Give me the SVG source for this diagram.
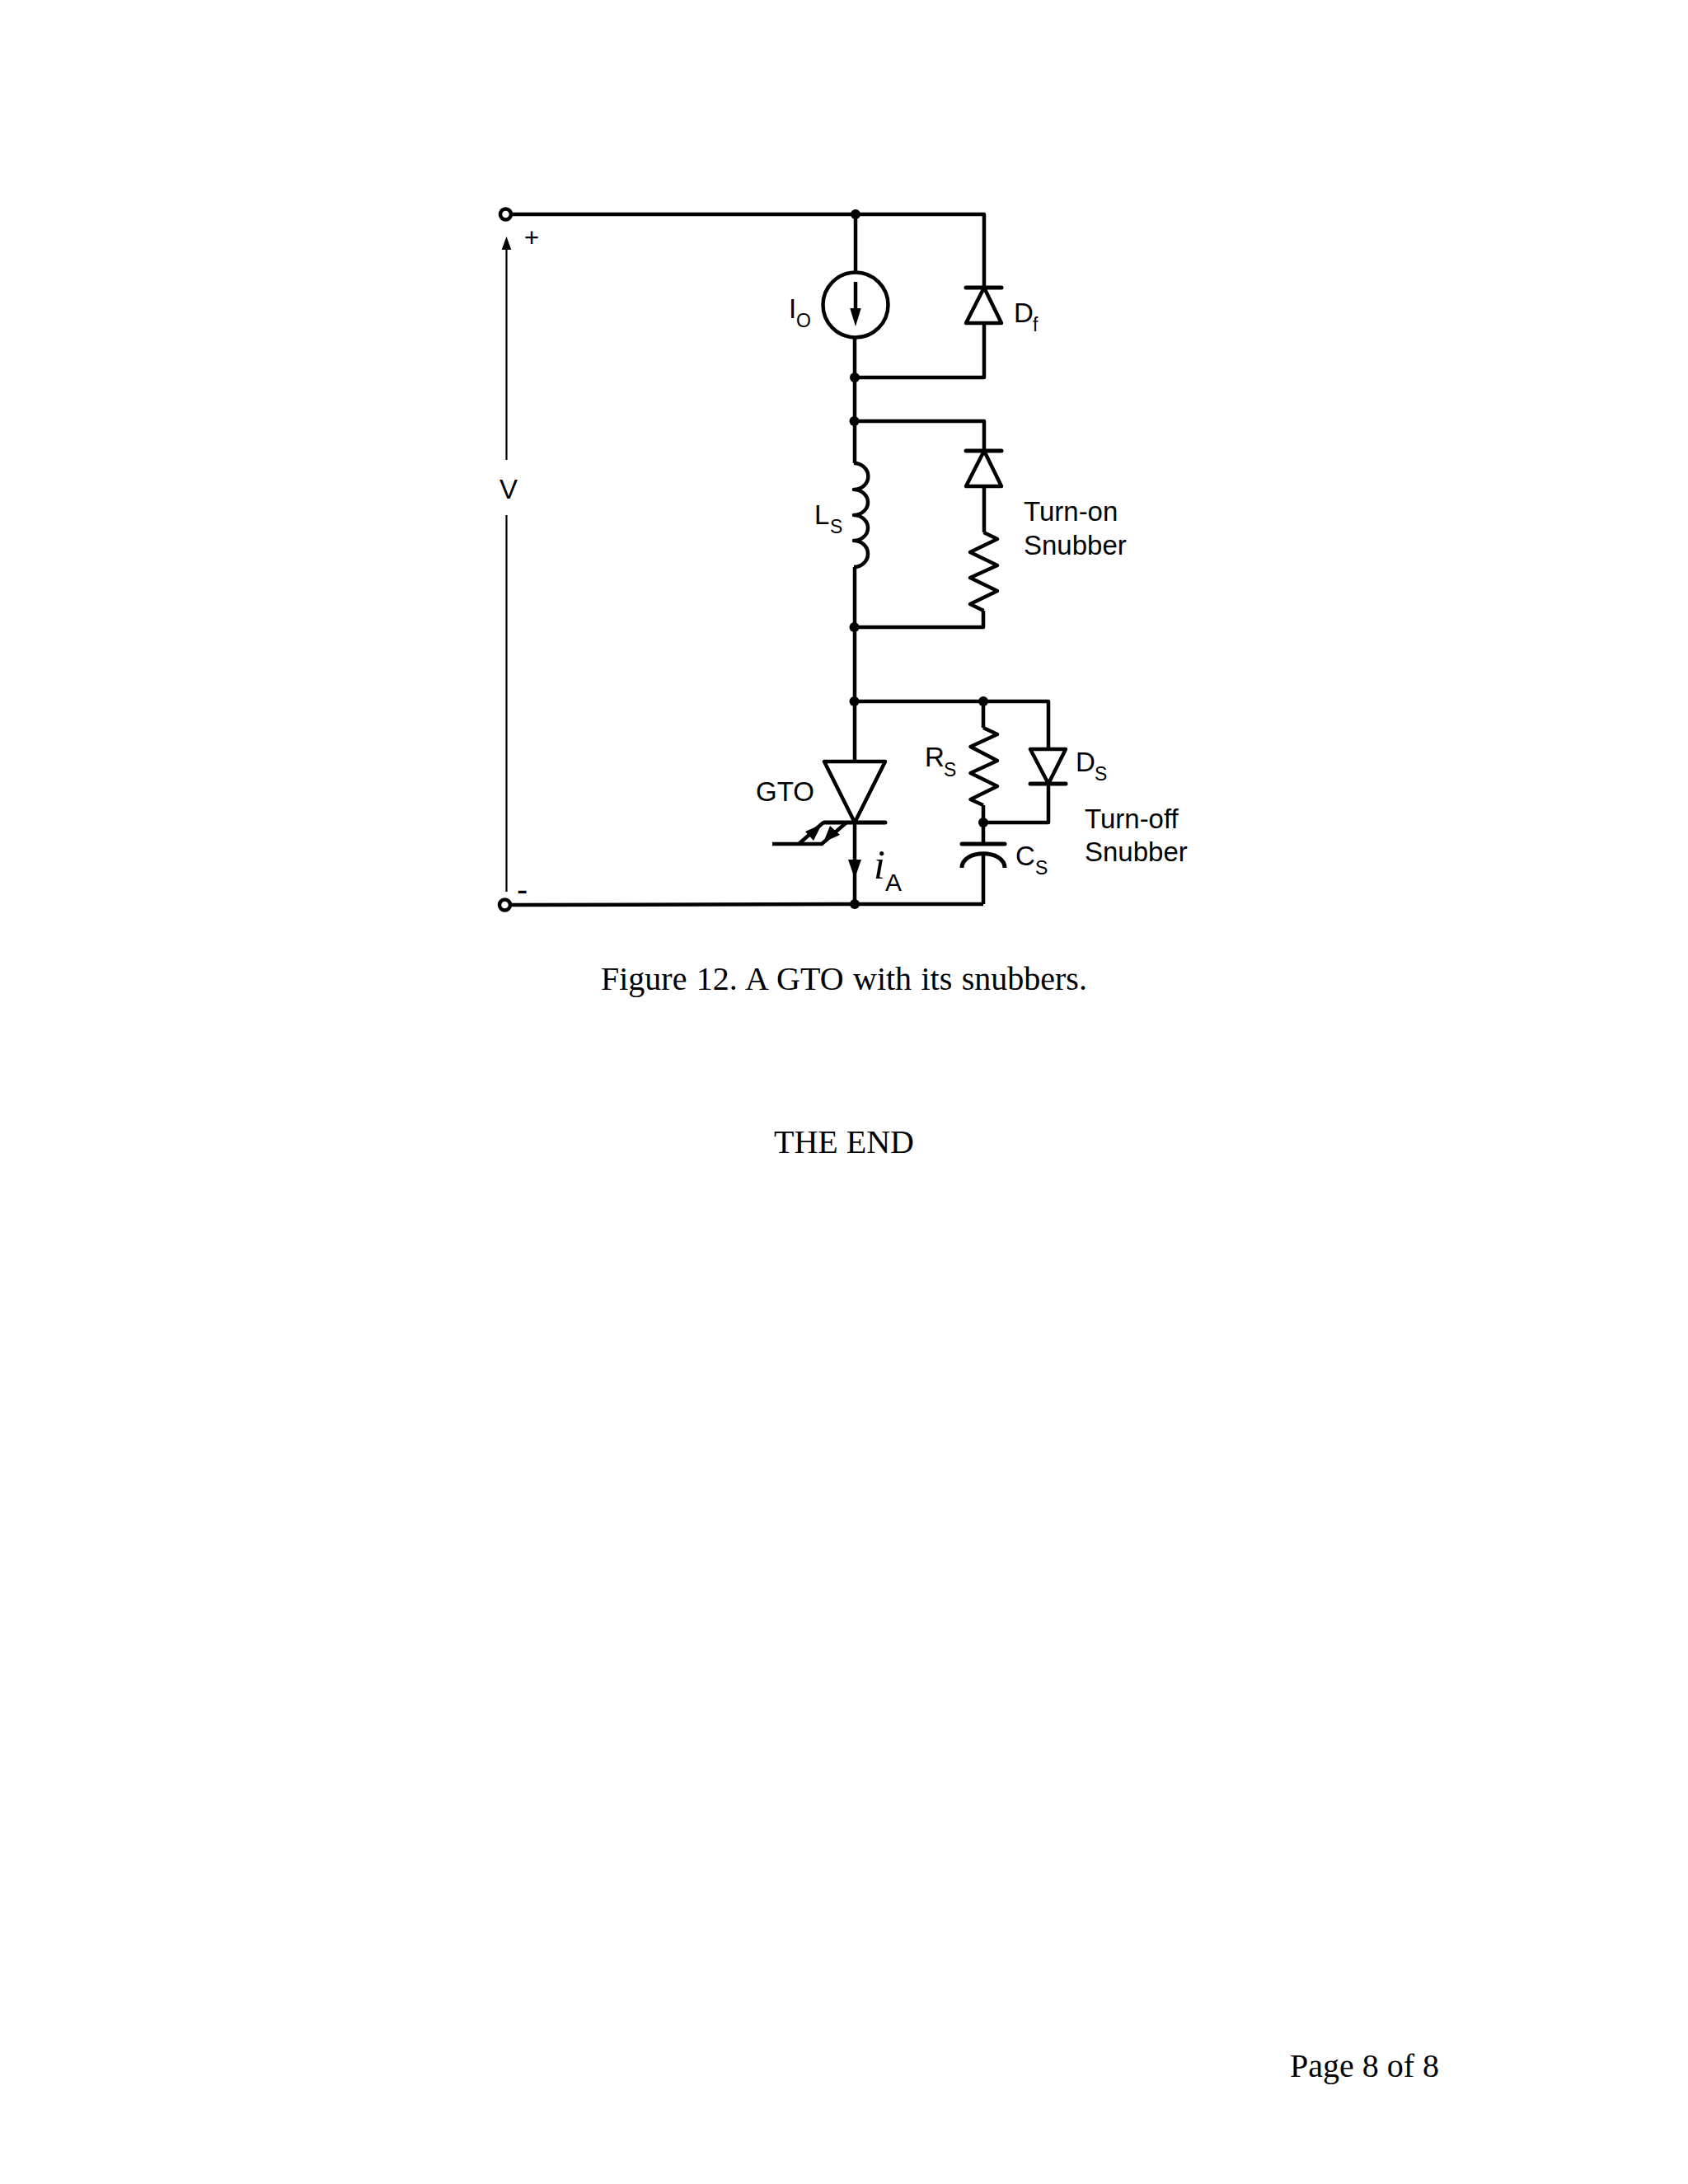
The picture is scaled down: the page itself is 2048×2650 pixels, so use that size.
<svg xmlns="http://www.w3.org/2000/svg" width="2048" height="2650" viewBox="0 0 2048 2650">
<style>
.w{fill:none;stroke:#000;stroke-width:4.5;stroke-linejoin:round}
.d{fill:#fff;stroke:#000;stroke-width:4.5;stroke-linejoin:round}
.thin{fill:none;stroke:#000;stroke-width:2.2}
.t{stroke:#000;stroke-width:5;stroke-linecap:round}
.h{fill:#000;stroke:none}
text{font-family:"Liberation Sans",Arial,sans-serif;fill:#000}
.l{font-size:33px}
.s{font-size:23px}
.c{font-family:"Liberation Serif","Times New Roman",serif;font-size:40px}
</style>
<rect width="2048" height="2650" fill="#fff"/>
<g id="connectors">
<path class="w" d="M620 260H1194V349M1194 392V458H1037M1038 260V330M1037 410V458V511V562M1037 511H1194V547M1194 590V646M1037 688V761H1193V741M1037 761V924M1037 851H1272V909M1193 851V883M1272 951V998H1193M1193 977V1024M1193 1036V1097M1037 998V1097M620 1098L1037 1097H1193"/>
<path class="thin" d="M614.500 300V558M614.500 625V1082"/>
<path class="h" d="M614.500 287L608.700 303H620.300Z"/>
</g>
<g id="terminal-plus"><circle cx="613.500" cy="260" r="6.500" class="d"/><text x="636" y="299" style="font-size:31px">+</text></g>
<g id="terminal-minus"><circle cx="612.500" cy="1098" r="6.500" class="d"/><text x="627" y="1093" style="font-size:40px">-</text></g>
<g id="label-v"><text x="606" y="605" style="font-size:33px">V</text></g>
<g id="node-io"><circle cx="1038" cy="370" r="39.500" class="w"/><path class="w" d="M1038 342V380"/><path class="h" d="M1038 396L1031.300 374H1044.700Z"/>
<text class="l" x="957" y="386">I</text><text class="s" x="966" y="397">O</text></g>
<g id="node-df"><path class="d" d="M1194 349L1172 392H1215Z"/><path class="t" d="M1172 349H1215"/>
<text class="l" x="1230" y="391">D</text><text class="s" x="1253" y="402">f</text></g>
<g id="node-ls"><path class="w" d="M1036 562A17 15.700 0 0 1 1036 594A17 15.500 0 0 1 1036 625A17 15.500 0 0 1 1036 656A17 16 0 0 1 1036 688"/>
<text class="l" x="988" y="636">L</text><text class="s" x="1007" y="647">S</text></g>
<g id="node-turn-on-diode"><path class="d" d="M1194 547L1172 590H1215Z"/><path class="t" d="M1172 547H1215"/></g>
<g id="node-turn-on-resistor"><path class="w" d="M1193.500 646L1210 654L1177 670L1210 686L1177 701L1210 717L1177 733L1193.500 741"/></g>
<g id="label-turn-on"><text class="l" x="1242" y="632">Turn-on</text><text class="l" x="1242" y="673">Snubber</text></g>
<g id="node-gto"><path class="d" d="M1000 924H1074L1037 998Z"/><path class="t" d="M1000 998H1074"/><path class="w" d="M937 1024H997L1027 998M969 1024L999 998"/>
<path class="h" d="M997 1000L977 1009L987 1020Z"/><path class="h" d="M999 1022L1007 1002L1019 1013Z"/><path class="h" d="M1037 1066L1029 1043H1045Z"/>
<text class="l" x="917" y="972">GTO</text>
<text x="1060" y="1066" style="font-family:'Liberation Serif',serif;font-style:italic;font-size:50px">i</text><text x="1074" y="1081" style="font-size:30px">A</text></g>
<g id="node-rs"><path class="w" d="M1193 883L1210 891L1177.500 906L1210 923L1177.500 938L1210 954L1177.500 970L1193 977"/>
<text class="l" x="1122" y="930">R</text><text class="s" x="1145" y="942">S</text></g>
<g id="node-ds"><path class="d" d="M1250 909H1293L1272 951Z"/><path class="t" d="M1250 951H1293"/>
<text class="l" x="1305" y="936">D</text><text class="s" x="1328" y="947">S</text></g>
<g id="node-cs"><path class="t" d="M1167 1024H1219"/><path class="w" d="M1167 1053C1167 1030 1219 1030 1219 1053" style="stroke-width:5"/>
<text class="l" x="1232" y="1050">C</text><text class="s" x="1256" y="1061">S</text></g>
<g id="label-turn-off"><text class="l" x="1316" y="1005">Turn-off</text><text class="l" x="1316" y="1045">Snubber</text></g>
<g id="junctions">
<circle cx="1038" cy="260" r="6"/><circle cx="1037" cy="458" r="6"/><circle cx="1036.500" cy="511" r="6"/><circle cx="1036.500" cy="761" r="6"/><circle cx="1036.500" cy="851" r="6"/><circle cx="1193" cy="851" r="6"/><circle cx="1193" cy="998" r="6"/><circle cx="1037" cy="1097" r="6"/>
</g>
<g id="captions">
<text class="c" x="729" y="1201" style="word-spacing:1.4px">Figure 12. A GTO with its snubbers.</text>
<text class="c" x="939" y="1399">THE END</text>
<text class="c" x="1565" y="2520">Page 8 of 8</text>
</g>
</svg>
